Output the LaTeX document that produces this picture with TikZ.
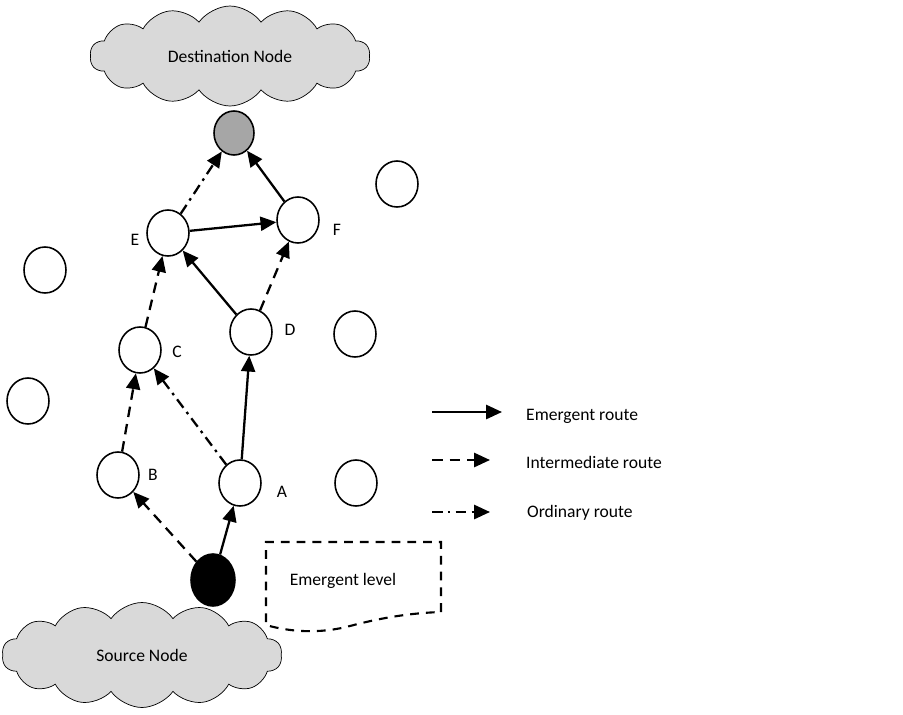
\documentclass[tikz,border=0pt]{standalone}
\usepackage{fontspec}
\setmainfont{Carlito}
\usetikzlibrary{arrows.meta,shapes.symbols,shapes.geometric}
\begin{document}
\begin{tikzpicture}[x=0.02cm,y=-0.02cm,
    host/.style={draw,ellipse,line width=0.9pt,minimum width=0.84cm,minimum height=0.92cm,inner sep=0pt},
    cloudy/.style={draw,cloud,cloud puffs=14,cloud puff arc=110,aspect=2.6,fill=gray!30,inner sep=2pt},
    tip/.style={-{Triangle[length=9pt,width=8pt]},line width=1.3pt},
    emergent/.style={tip},
    intermediate/.style={tip,dash pattern=on 6pt off 4pt},
    ordinary/.style={tip,dash pattern=on 6pt off 3pt on 1.5pt off 3pt}]
  \useasboundingbox (0,0) rectangle (903,714);

  % clouds
  \node[cloudy,minimum width=5.6cm,minimum height=2.0cm] (dest) at (230,56) {Destination Node};
  \node[cloudy,minimum width=5.6cm,minimum height=2.1cm] (src) at (142,655) {Source Node};

  % route nodes
  \node[host,fill=gray!70,minimum width=0.8cm,minimum height=0.88cm] (t) at (234,133) {};
  \node[host] (e) at (168,233) {};
  \node[host] (f) at (298,220) {};
  \node[host] (d) at (251,332) {};
  \node[host] (c) at (140,350) {};
  \node[host] (b) at (118,475) {};
  \node[host] (a) at (240,483) {};
  \node[host,fill=black,minimum width=0.88cm,minimum height=1.04cm] (s) at (213,580) {};

  % other nodes
  \node[host] (n1) at (397,184) {};
  \node[host] (n2) at (45,270) {};
  \node[host] (n3) at (355,334) {};
  \node[host] (n4) at (28,401) {};
  \node[host] (n5) at (356,483) {};

  % labels
  \node (le) at (135,240) {E};
  \node (lf) at (337,230) {F};
  \node (ld) at (290,330) {D};
  \node (lc) at (177,352) {C};
  \node (lb) at (153,475) {B};
  \node (la) at (282,492) {A};

  % routes
  \draw[ordinary] (e) -- (t);
  \draw[emergent] (f) -- (t);
  \draw[emergent] (e) -- (f);
  \draw[emergent] (d) -- (e);
  \draw[intermediate] (d) -- (f);
  \draw[intermediate] (c) -- (e);
  \draw[ordinary] (a) -- (c);
  \draw[emergent] (a) -- (d);
  \draw[intermediate] (b) -- (c);
  \draw[intermediate] (s) -- (b);
  \draw[emergent] (s) -- (a);

  % legend
  \coordinate (k1) at (432,412); \coordinate (k1e) at (502,412);
  \coordinate (k2) at (432,460); \coordinate (k2e) at (490,460);
  \coordinate (k3) at (432,512); \coordinate (k3e) at (490,512);
  \draw[emergent] (k1) -- (k1e);
  \draw[intermediate] (k2) -- (k2e);
  \draw[ordinary] (k3) -- (k3e);
  \node[anchor=west] (t1) at (520,416) {Emergent route};
  \node[anchor=west] (t2) at (520,462) {Intermediate route};
  \node[anchor=west] (t3) at (521,513) {Ordinary route};

  % emergent level box
  \draw[line width=1.2pt,dash pattern=on 5pt off 4pt]
    (441,612) -- (441,542) -- (266,542) -- (266,625)
    .. controls (290,632) and (320,634) .. (350,626)
    .. controls (380,618) and (410,613) .. (441,612);
  \node (lvl) at (343,581) {Emergent level};
\end{tikzpicture}
\end{document}
